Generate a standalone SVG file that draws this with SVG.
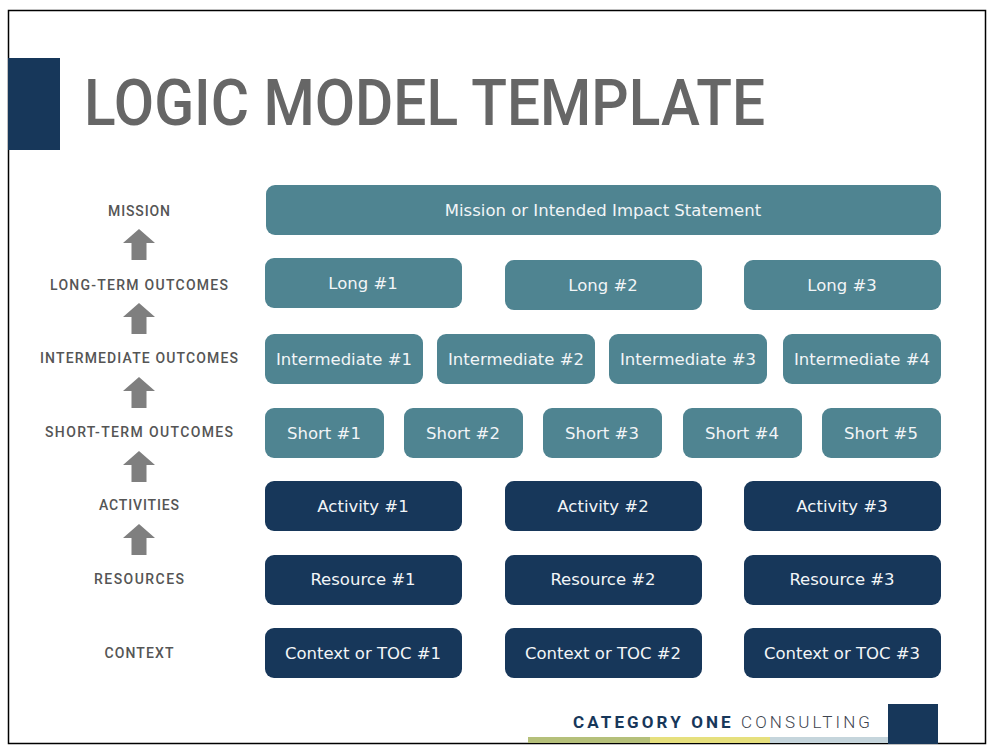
<svg xmlns="http://www.w3.org/2000/svg" width="997" height="754" viewBox="0 0 997 754">
<style>
.t{fill:#4f8491}
.n{fill:#17375a}
.bt{font-family:"DejaVu Sans","Liberation Sans",sans-serif;font-size:16.5px;fill:#f2f5f7;text-anchor:middle}
.lb{font-family:Roboto,"Liberation Sans",sans-serif;font-size:14px;fill:#555;text-anchor:middle;font-weight:500}
.ar{fill:#7f7f7f}
</style>
<defs>
<path id="arw" d="M0,0 L16,14 L7.5,14 L7.5,31 L-7.5,31 L-7.5,14 L-16,14 Z"/>
</defs>
<rect x="0" y="0" width="997" height="754" fill="#fff"/>
<rect x="8.5" y="10.5" width="977" height="733" fill="none" stroke="#000" stroke-width="1.5"/>
<rect x="8" y="58" width="52" height="92" fill="#17375a"/>
<text x="84" y="125" font-family="Roboto,'Liberation Sans',sans-serif" font-weight="500" font-size="64" fill="#666" textLength="681" lengthAdjust="spacingAndGlyphs">LOGIC MODEL TEMPLATE</text>

<g id="labels">
<text class="lb" x="139" y="216" textLength="62">MISSION</text>
<text class="lb" x="139" y="290" textLength="178">LONG-TERM OUTCOMES</text>
<text class="lb" x="139" y="363" textLength="198">INTERMEDIATE OUTCOMES</text>
<text class="lb" x="139" y="437" textLength="188">SHORT-TERM OUTCOMES</text>
<text class="lb" x="139" y="510" textLength="80">ACTIVITIES</text>
<text class="lb" x="139" y="584" textLength="90">RESOURCES</text>
<text class="lb" x="139" y="658" textLength="69">CONTEXT</text>
</g>
<g id="connectors">
<use href="#arw" class="ar" x="139" y="229"/>
<use href="#arw" class="ar" x="139" y="303"/>
<use href="#arw" class="ar" x="139" y="377"/>
<use href="#arw" class="ar" x="139" y="451"/>
<use href="#arw" class="ar" x="139" y="524"/>
</g>

<g id="mission"><rect class="t" x="266" y="185" width="675" height="50" rx="9"/><text class="bt" x="603" y="216">Mission or Intended Impact Statement</text></g>

<g id="long1"><rect class="t" x="265" y="258" width="197" height="50" rx="9"/><text class="bt" x="363" y="289">Long #1</text></g>
<g id="long2"><rect class="t" x="505" y="260" width="197" height="50" rx="9"/><text class="bt" x="603" y="291">Long #2</text></g>
<g id="long3"><rect class="t" x="744" y="260" width="197" height="50" rx="9"/><text class="bt" x="842" y="291">Long #3</text></g>

<g id="int1"><rect class="t" x="265" y="334" width="158" height="50" rx="9"/><text class="bt" x="344" y="365">Intermediate #1</text></g>
<g id="int2"><rect class="t" x="437" y="334" width="158" height="50" rx="9"/><text class="bt" x="516" y="365">Intermediate #2</text></g>
<g id="int3"><rect class="t" x="609" y="334" width="158" height="50" rx="9"/><text class="bt" x="688" y="365">Intermediate #3</text></g>
<g id="int4"><rect class="t" x="783" y="334" width="158" height="50" rx="9"/><text class="bt" x="862" y="365">Intermediate #4</text></g>

<g id="short1"><rect class="t" x="265" y="408" width="119" height="50" rx="9"/><text class="bt" x="324" y="439">Short #1</text></g>
<g id="short2"><rect class="t" x="404" y="408" width="119" height="50" rx="9"/><text class="bt" x="463" y="439">Short #2</text></g>
<g id="short3"><rect class="t" x="543" y="408" width="119" height="50" rx="9"/><text class="bt" x="602" y="439">Short #3</text></g>
<g id="short4"><rect class="t" x="683" y="408" width="119" height="50" rx="9"/><text class="bt" x="742" y="439">Short #4</text></g>
<g id="short5"><rect class="t" x="822" y="408" width="119" height="50" rx="9"/><text class="bt" x="881" y="439">Short #5</text></g>

<g id="act1"><rect class="n" x="265" y="481" width="197" height="50" rx="9"/><text class="bt" x="363" y="512">Activity #1</text></g>
<g id="act2"><rect class="n" x="505" y="481" width="197" height="50" rx="9"/><text class="bt" x="603" y="512">Activity #2</text></g>
<g id="act3"><rect class="n" x="744" y="481" width="197" height="50" rx="9"/><text class="bt" x="842" y="512">Activity #3</text></g>

<g id="res1"><rect class="n" x="265" y="555" width="197" height="50" rx="9"/><text class="bt" x="363" y="585">Resource #1</text></g>
<g id="res2"><rect class="n" x="505" y="555" width="197" height="50" rx="9"/><text class="bt" x="603" y="585">Resource #2</text></g>
<g id="res3"><rect class="n" x="744" y="555" width="197" height="50" rx="9"/><text class="bt" x="842" y="585">Resource #3</text></g>

<g id="ctx1"><rect class="n" x="265" y="628" width="197" height="50" rx="9"/><text class="bt" x="363" y="659">Context or TOC #1</text></g>
<g id="ctx2"><rect class="n" x="505" y="628" width="197" height="50" rx="9"/><text class="bt" x="603" y="659">Context or TOC #2</text></g>
<g id="ctx3"><rect class="n" x="744" y="628" width="197" height="50" rx="9"/><text class="bt" x="842" y="659">Context or TOC #3</text></g>

<g id="footer">
<text x="573" y="728" font-family="Roboto,'Liberation Sans',sans-serif" font-size="17" fill="#17375a" textLength="297"><tspan font-weight="bold">CATEGORY ONE</tspan> <tspan fill="#3d4450" font-weight="300">CONSULTING</tspan></text>
<rect x="528" y="737" width="122" height="6" fill="#b5c07a"/>
<rect x="650" y="737" width="120" height="6" fill="#e6e07e"/>
<rect x="770" y="737" width="118" height="6" fill="#c5d5dc"/>
<rect x="888" y="704" width="50" height="40" fill="#17375a"/>
</g>
</svg>
